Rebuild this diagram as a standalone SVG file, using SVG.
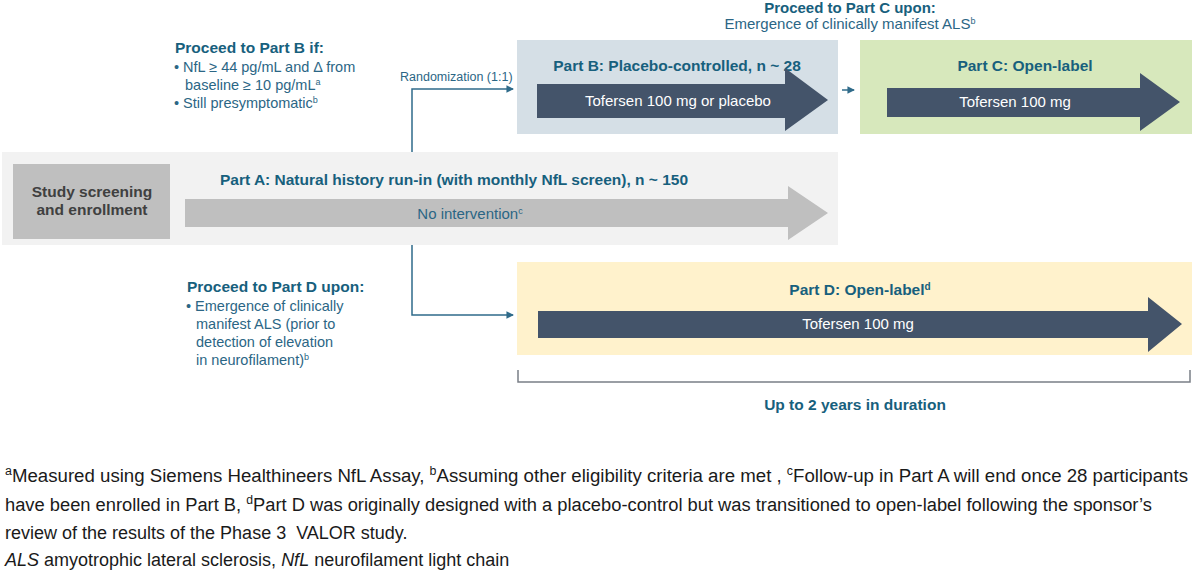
<svg xmlns="http://www.w3.org/2000/svg" width="1200" height="571" viewBox="0 0 1200 571">
<style>
text{font-family:"Liberation Sans",Arial,sans-serif}
.t{font-weight:bold;font-size:15.5px;fill:#17607d}
.b{font-size:14.5px;fill:#2b6685}
.w{font-size:15px;fill:#ffffff}
.fn{font-size:18px;fill:#1a1a1a}
.con{fill:none;stroke:#2f6b8a;stroke-width:1.5}
.dark{fill:#44546a}
</style>
<defs>
<marker id="ah" viewBox="0 0 8 8" refX="7" refY="4" markerWidth="5" markerHeight="5" orient="auto" markerUnits="strokeWidth">
<path d="M0,0 L8,4 L0,8 z" fill="#2f6b8a"/>
</marker>
</defs>
<rect width="1200" height="571" fill="#ffffff"/>

<g id="connectors">
<path class="con" d="M412,152 V89 H513" marker-end="url(#ah)"/>
<path class="con" d="M412,245 V315 H513" marker-end="url(#ah)"/>
<path class="con" d="M842,90 H854" marker-end="url(#ah)"/>
<path d="M518,370 V382 H1190 V370" fill="none" stroke="#7a7f87" stroke-width="1.5"/>
</g>

<g id="label-partC-cond">
<text x="850" y="13" text-anchor="middle" font-size="15px" font-weight="bold" fill="#17607d">Proceed to Part C upon:</text>
<text x="850" y="29" text-anchor="middle" font-size="15px" fill="#2b6685">Emergence of clinically manifest ALS<tspan font-size="9" dy="-5">b</tspan></text>
</g>

<g id="label-partB-cond">
<text class="t" x="175" y="53">Proceed to Part B if:</text>
<text class="b" x="174" y="72">• NfL ≥ 44 pg/mL and Δ from</text>
<text class="b" x="185" y="90">baseline ≥ 10 pg/mL<tspan font-size="9" dy="-5">a</tspan></text>
<text class="b" x="174" y="108">• Still presymptomatic<tspan font-size="9" dy="-5">b</tspan></text>
<text x="400" y="81" font-size="12.5px" fill="#2b6685">Randomization (1:1)</text>
</g>

<g id="partB">
<rect x="517" y="40" width="321" height="94" fill="#d5dfe6"/>
<text class="t" x="677" y="71" text-anchor="middle">Part B: Placebo-controlled, n ~ 28</text>
<path class="dark" d="M537,84 H785 V68 L828,100 L785,131 V118 H537 z"/>
<text class="w" x="678" y="106" text-anchor="middle">Tofersen 100 mg or placebo</text>
</g>

<g id="partC">
<rect x="860" y="40" width="332" height="94" fill="#d7e8bc"/>
<text class="t" x="1025" y="71" text-anchor="middle">Part C: Open-label</text>
<path class="dark" d="M887,88 H1140 V73 L1180,102 L1140,131 V117 H887 z"/>
<text class="w" x="1015" y="107" text-anchor="middle">Tofersen 100 mg</text>
</g>

<g id="partA">
<rect x="2" y="152" width="836" height="93" fill="#f2f2f2"/>
<text class="t" x="220" y="185">Part A: Natural history run-in (with monthly NfL screen), n ~ 150</text>
<path d="M185,199 H788 V186 L828,213 L788,240 V227 H185 z" fill="#bfbfbf"/>
<text x="470" y="219" text-anchor="middle" font-size="15px" fill="#2b6685">No intervention<tspan font-size="9" dy="-5">c</tspan></text>
</g>

<g id="screening">
<rect x="13" y="164" width="157" height="75" fill="#bfbfbf"/>
<text x="92" y="197" text-anchor="middle" font-size="15.5px" font-weight="bold" fill="#404040">Study screening</text>
<text x="92" y="215" text-anchor="middle" font-size="15.5px" font-weight="bold" fill="#404040">and enrollment</text>
</g>

<g id="label-partD-cond">
<text class="t" x="187" y="292">Proceed to Part D upon:</text>
<text class="b" x="186" y="311">• Emergence of clinically</text>
<text class="b" x="196" y="329">manifest ALS (prior to</text>
<text class="b" x="196" y="347">detection of elevation</text>
<text class="b" x="196" y="365">in neurofilament)<tspan font-size="9" dy="-5">b</tspan></text>
</g>

<g id="partD">
<rect x="517" y="262" width="675" height="93" fill="#fff2cc"/>
<text class="t" x="860" y="295" text-anchor="middle">Part D: Open-label<tspan font-size="10" dy="-5">d</tspan></text>
<path class="dark" d="M538,311 H1148 V297 L1182,324 L1148,352 V338 H538 z"/>
<text class="w" x="858" y="329" text-anchor="middle">Tofersen 100 mg</text>
</g>

<g id="duration">
<text class="t" x="855" y="410" text-anchor="middle">Up to 2 years in duration</text>
</g>

<g id="footnotes">
<text class="fn" x="5" y="482" textLength="1183" lengthAdjust="spacingAndGlyphs"><tspan font-size="12" dy="-7">a</tspan><tspan dy="7">Measured using Siemens Healthineers NfL Assay, </tspan><tspan font-size="12" dy="-7">b</tspan><tspan dy="7">Assuming other eligibility criteria are met , </tspan><tspan font-size="12" dy="-7">c</tspan><tspan dy="7">Follow-up in Part A will end once 28 participants</tspan></text>
<text class="fn" x="5" y="511" textLength="1147" lengthAdjust="spacingAndGlyphs">have been enrolled in Part B, <tspan font-size="12" dy="-7">d</tspan><tspan dy="7">Part D was originally designed with a placebo-control but was transitioned to open-label following the sponsor’s</tspan></text>
<text class="fn" x="5" y="539">review of the results of the Phase 3&#160; VALOR study.</text>
<text class="fn" x="5" y="566"><tspan font-style="italic">ALS</tspan> amyotrophic lateral sclerosis, <tspan font-style="italic">NfL</tspan> neurofilament light chain</text>
</g>
</svg>
